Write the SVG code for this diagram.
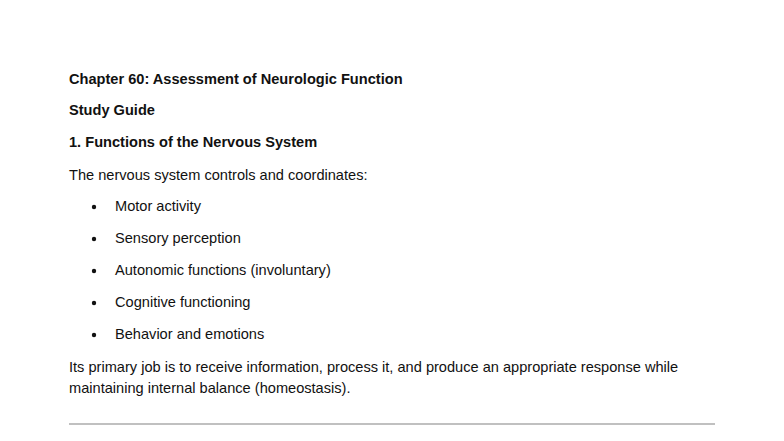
<svg xmlns="http://www.w3.org/2000/svg" width="784" height="441" viewBox="0 0 784 441">
<style>
text{font-family:"Liberation Sans",Arial,sans-serif;font-size:14.6px;fill:#111}
.b{font-weight:bold}
</style>
<rect width="784" height="441" fill="#fff"/>
<text class="b" x="69" y="84">Chapter 60: Assessment of Neurologic Function</text>
<text class="b" x="69" y="115">Study Guide</text>
<text class="b" x="69" y="147">1. Functions of the Nervous System</text>
<text x="69" y="180">The nervous system controls and coordinates:</text>
<g>
<circle cx="94" cy="207" r="2.2" fill="#111"/><text x="115" y="211">Motor activity</text>
<circle cx="94" cy="239" r="2.2" fill="#111"/><text x="115" y="243">Sensory perception</text>
<circle cx="94" cy="271" r="2.2" fill="#111"/><text x="115" y="275">Autonomic functions (involuntary)</text>
<circle cx="94" cy="303" r="2.2" fill="#111"/><text x="115" y="307">Cognitive functioning</text>
<circle cx="94" cy="335" r="2.2" fill="#111"/><text x="115" y="339">Behavior and emotions</text>
</g>
<text x="69" y="372">Its primary job is to receive information, process it, and produce an appropriate response while</text>
<text x="69" y="393">maintaining internal balance (homeostasis).</text>
<rect x="69" y="423" width="646" height="2" fill="#c0c0c0"/>
</svg>
